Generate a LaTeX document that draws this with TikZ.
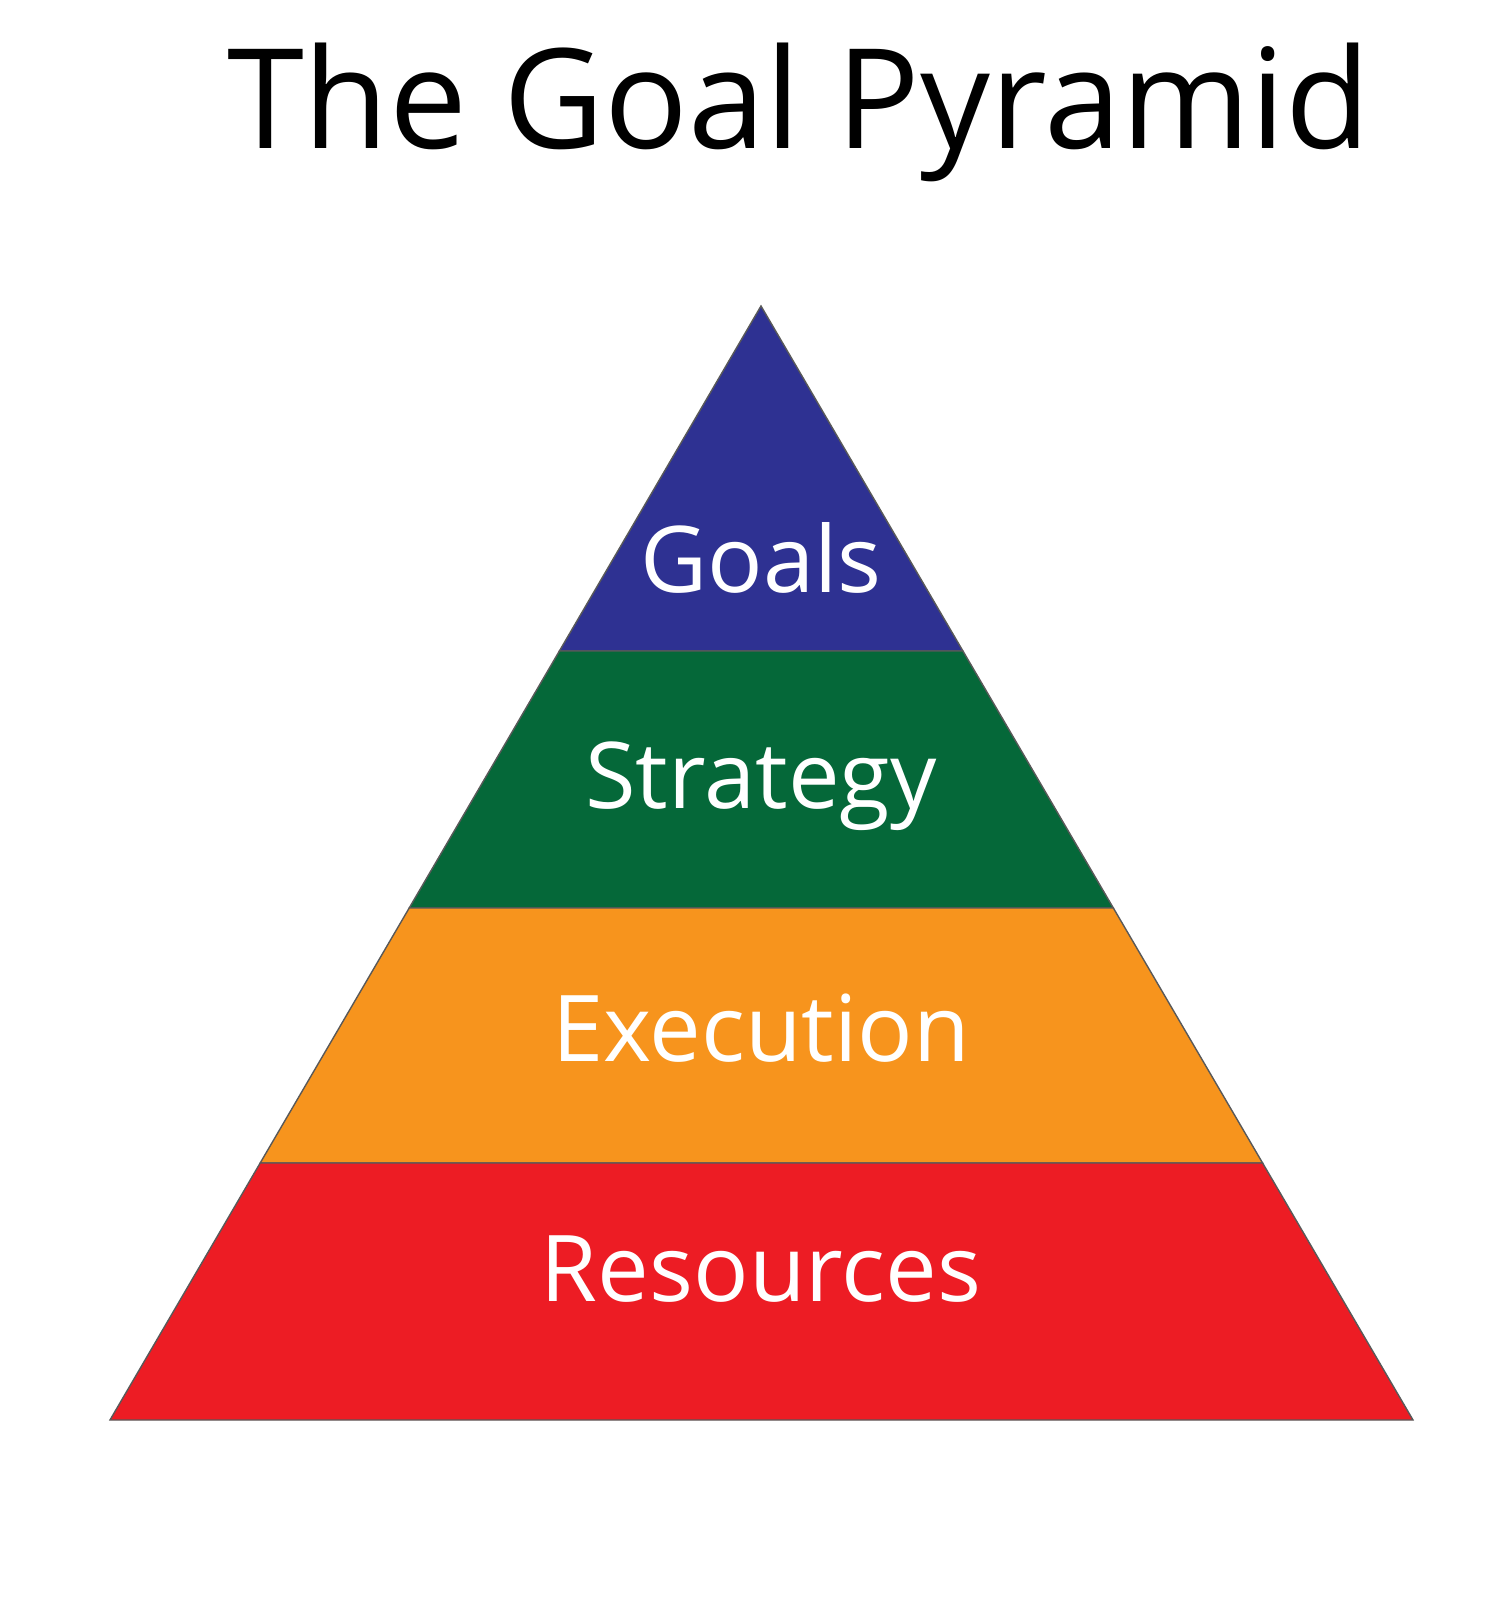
\documentclass[tikz,border=0pt]{standalone}
\usepackage{fontspec}
\setmainfont{Open Sans}
\usetikzlibrary{calc}

\definecolor{goalblue}{HTML}{2E3192}
\definecolor{goalgreen}{HTML}{056839}
\definecolor{goalorange}{HTML}{F7941D}
\definecolor{goalred}{HTML}{ED1C24}

\tikzset{
  band/.style={draw=black!65,line width=0.4pt},
  bandlabel/.style={text=white,anchor=base,inner sep=0pt,
    font=\fontsize{26.2}{30}\selectfont}
}

\begin{document}
\begin{tikzpicture}[x=0.01cm,y=-0.01cm]
\useasboundingbox (0,0) rectangle (1500,1600);

\node[anchor=base,inner sep=0pt,font=\fontsize{39.5}{46}\selectfont]
	(title) at (799,149) {The Goal Pyramid};

\coordinate (apex) at (761,306);
\coordinate (bl) at (110,1420);
\coordinate (br) at (1413,1420);

\foreach \ta/\tb/\col in {0/0.3097/goalblue,0.3097/0.5404/goalgreen,
	0.5404/0.7693/goalorange,0.7693/1/goalred}{
	\filldraw[band,fill=\col] ($(apex)!\ta!(bl)$) -- ($(apex)!\tb!(bl)$)
		-- ($(apex)!\tb!(br)$) -- ($(apex)!\ta!(br)$) -- cycle;
}

\node[bandlabel] (goals) at (761,592) {Goals};
\node[bandlabel] (strategy) at (761,808) {Strategy};
\node[bandlabel] (execution) at (761,1061) {Execution};
\node[bandlabel] (resources) at (761,1301) {Resources};

\end{tikzpicture}
\end{document}
